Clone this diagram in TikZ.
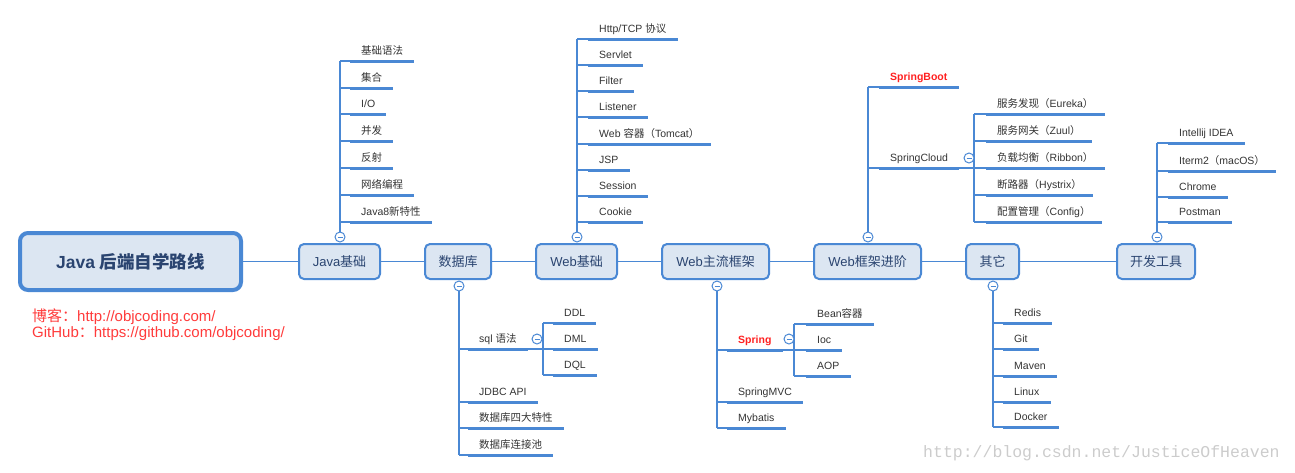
\documentclass[tikz,border=0pt]{standalone}
\usepackage{fontspec}
\setmainfont{Liberation Sans}
\newfontfamily\cjkf{Noto Sans CJK SC}
\newfontfamily\wmf{Liberation Mono}
\newcommand\C[1]{{\cjkf #1}}
\definecolor{lineblue}{HTML}{4A88D4}
\definecolor{boxfill}{HTML}{DCE6F2}
\definecolor{boxtext}{HTML}{2A4470}
\definecolor{leaftext}{HTML}{333333}
\definecolor{hot}{HTML}{FF2020}
\definecolor{note}{HTML}{FF3B3B}
\tikzset{
  conn/.style={draw=lineblue, line width=1.2pt},
  uline/.style={draw=lineblue, line width=3pt},
  mainbox/.style={draw=lineblue, line width=2pt, fill=boxfill, rounded corners=5pt,
    minimum height=35pt, text=boxtext, font=\fontsize{13}{15}\selectfont, inner sep=0pt},
  rootbox/.style={mainbox, line width=4pt, rounded corners=8pt, minimum width=221pt,
    minimum height=57pt, font=\fontsize{17.5}{20}\selectfont\bfseries},
  leaf/.style={anchor=south west, inner xsep=11pt, inner ysep=6pt, text height=8pt,
    text depth=0pt, text=leaftext, font=\fontsize{10.5}{12}\selectfont},
  hotleaf/.style={leaf, text=hot, font=\fontsize{10.5}{12}\selectfont\bfseries},
  notetext/.style={anchor=west, text=note, inner sep=0pt, font=\fontsize{15}{16}\selectfont},
  collapse/.style={circle, draw=lineblue, line width=1pt, fill=white, minimum size=10pt,
    inner sep=0pt, path picture={\draw[lineblue, line width=1pt]
      ([xshift=-2.5pt]path picture bounding box.center) --
      ([xshift=2.5pt]path picture bounding box.center);}},
}
% \lf[style]{junction}{name}{x}{y}{text}
\newcommand\lf[6][leaf]{%
  \node[#1] (#3) at (#4,#5) {#6};
  \draw[conn] (#3.south west -| #2) -- (#3.south west);
  \draw[uline] (#3.south west) -- (#3.south east);
}
\begin{document}
\begin{tikzpicture}[x=1pt, y=-1pt]
\useasboundingbox (0,0) rectangle (1295,472);

% main boxes
\node[rootbox] (root) at (130.5,261.5) {Java \C{后端自学路线}};
\node[mainbox, minimum width=81pt] (jb) at (339.5,261.5) {Java\C{基础}};
\node[mainbox, minimum width=66pt] (db) at (458,261.5) {\C{数据库}};
\node[mainbox, minimum width=81pt] (wb) at (576.5,261.5) {Web\C{基础}};
\node[mainbox, minimum width=107pt] (wf) at (715.5,261.5) {Web\C{主流框架}};
\node[mainbox, minimum width=107pt] (wa) at (867.5,261.5) {Web\C{框架进阶}};
\node[mainbox, minimum width=53pt] (ot) at (992.5,261.5) {\C{其它}};
\node[mainbox, minimum width=78pt] (dt) at (1156,261.5) {\C{开发工具}};

\draw[conn] (root) -- (jb);
\draw[conn] (jb) -- (db);
\draw[conn] (db) -- (wb);
\draw[conn] (wb) -- (wf);
\draw[conn] (wf) -- (wa);
\draw[conn] (wa) -- (ot);
\draw[conn] (ot) -- (dt);

% notes
\node[notetext] (n1) at (32,317) {\C{博客：}http://objcoding.com/};
\node[notetext] (n2) at (32,334) {GitHub\C{：}https://github.com/objcoding/};

% Java基础
\coordinate (j1) at (340,237);
\lf{j1}{a1}{350}{61}{\C{基础语法}}
\lf{j1}{a2}{350}{88}{\C{集合}}
\lf{j1}{a3}{350}{114}{I/O}
\lf{j1}{a4}{350}{141}{\C{并发}}
\lf{j1}{a5}{350}{168}{\C{反射}}
\lf{j1}{a6}{350}{195}{\C{网络编程}}
\lf{j1}{a7}{350}{222}{Java8\C{新特性}}
\draw[conn] (j1) -- (j1 |- a1.south west);
\node[collapse] (c1) at (j1) {};

% 数据库
\coordinate (j2) at (459,286);
\lf{j2}{b1}{468}{349}{sql \C{语法}}
\lf{j2}{b2}{468}{402}{JDBC API}
\lf{j2}{b3}{468}{428}{\C{数据库四大特性}}
\lf{j2}{b4}{468}{455}{\C{数据库连接池}}
\draw[conn] (j2) -- (j2 |- b4.south west);
\node[collapse] (c2) at (j2) {};
\coordinate (k2) at (543,349);
\draw[conn] (b1.south east) -- (k2);
\lf{k2}{b11}{553}{323}{DDL}
\lf{k2}{b12}{553}{349}{DML}
\lf{k2}{b13}{553}{375}{DQL}
\draw[conn] (k2 |- b11.south west) -- (k2 |- b13.south west);
\node[collapse] (c2a) at (537,339) {};

% Web基础
\coordinate (j3) at (577,237);
\lf{j3}{w1}{588}{39}{Http/TCP \C{协议}}
\lf{j3}{w2}{588}{65}{Servlet}
\lf{j3}{w3}{588}{91}{Filter}
\lf{j3}{w4}{588}{117}{Listener}
\lf{j3}{w5}{588}{144}{Web \C{容器（}Tomcat\C{）}}
\lf{j3}{w6}{588}{170}{JSP}
\lf{j3}{w7}{588}{196}{Session}
\lf{j3}{w8}{588}{222}{Cookie}
\draw[conn] (j3) -- (j3 |- w1.south west);
\node[collapse] (c3) at (j3) {};

% Web主流框架
\coordinate (j4) at (717,286);
\lf[hotleaf]{j4}{f1}{727}{350}{Spring}
\lf{j4}{f2}{727}{402}{SpringMVC}
\lf{j4}{f3}{727}{428}{Mybatis}
\draw[conn] (j4) -- (j4 |- f3.south west);
\node[collapse] (c4) at (j4) {};
\coordinate (k4) at (794,350);
\draw[conn] (f1.south east) -- (k4);
\lf{k4}{f11}{806}{324}{Bean\C{容器}}
\lf{k4}{f12}{806}{350}{Ioc}
\lf{k4}{f13}{806}{376}{AOP}
\draw[conn] (k4 |- f11.south west) -- (k4 |- f13.south west);
\node[collapse] (c4a) at (789,339) {};

% Web框架进阶
\coordinate (j5) at (868,237);
\lf[hotleaf]{j5}{s1}{879}{87}{SpringBoot}
\lf{j5}{s2}{879}{168}{SpringCloud}
\draw[conn] (j5) -- (j5 |- s1.south west);
\node[collapse] (c5) at (j5) {};
\coordinate (k5) at (974,168);
\draw[conn] (s2.south east) -- (k5);
\lf{k5}{s21}{986}{114}{\C{服务发现（}Eureka\C{）}}
\lf{k5}{s22}{986}{141}{\C{服务网关（}Zuul\C{）}}
\lf{k5}{s23}{986}{168}{\C{负载均衡（}Ribbon\C{）}}
\lf{k5}{s24}{986}{195}{\C{断路器（}Hystrix\C{）}}
\lf{k5}{s25}{986}{222}{\C{配置管理（}Config\C{）}}
\draw[conn] (k5 |- s21.south west) -- (k5 |- s25.south west);
\node[collapse] (c5a) at (969,158) {};

% 其它
\coordinate (j6) at (993,286);
\lf{j6}{o1}{1003}{323}{Redis}
\lf{j6}{o2}{1003}{349}{Git}
\lf{j6}{o3}{1003}{376}{Maven}
\lf{j6}{o4}{1003}{402}{Linux}
\lf{j6}{o5}{1003}{427}{Docker}
\draw[conn] (j6) -- (j6 |- o5.south west);
\node[collapse] (c6) at (j6) {};

% 开发工具
\coordinate (j7) at (1157,237);
\lf{j7}{t1}{1168}{143}{Intellij IDEA}
\lf{j7}{t2}{1168}{171}{Iterm2\C{（}macOS\C{）}}
\lf{j7}{t3}{1168}{197}{Chrome}
\lf{j7}{t4}{1168}{222}{Postman}
\draw[conn] (j7) -- (j7 |- t1.south west);
\node[collapse] (c7) at (j7) {};

% watermark
\node[anchor=west, inner sep=0pt, text=black!20, font=\wmf\fontsize{16.5}{18}\selectfont] (wm) at (923,453) {http://blog.csdn.net/JusticeOfHeaven};
\end{tikzpicture}
\end{document}
